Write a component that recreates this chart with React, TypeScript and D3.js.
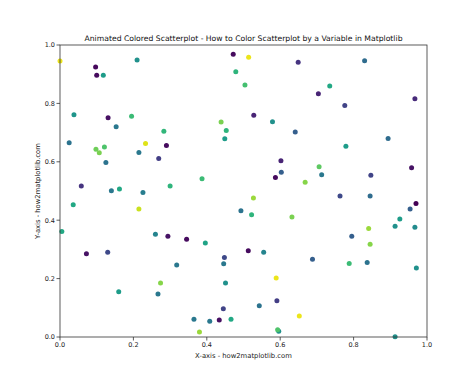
import React from "react";
import * as d3 from "d3";

const xs = [0.0,0.097,0.1,0.118,0.21,0.038,0.131,0.195,0.153,0.283,0.025,0.233,0.29,0.098,0.107,0.121,0.215,0.269,0.125,0.058,0.14,0.162,0.226,0.3,0.036,0.215,0.005,0.26,0.294,0.072,0.13,0.318,0.274,0.16,0.267,0.472,0.514,0.649,0.479,0.504,0.528,0.439,0.579,0.453,0.641,0.449,0.83,0.735,0.704,0.776,0.967,0.894,0.779,0.602,0.603,0.587,0.387,0.527,0.493,0.522,0.632,0.345,0.396,0.513,0.555,0.448,0.446,0.589,0.451,0.591,0.543,0.445,0.365,0.408,0.434,0.466,0.38,0.596,0.593,0.652,0.706,0.713,0.668,0.958,0.847,0.763,0.845,0.97,0.954,0.926,0.913,0.967,0.841,0.795,0.845,0.688,0.788,0.837,0.971,0.913];
const ys = [0.945,0.925,0.896,0.896,0.949,0.761,0.751,0.756,0.72,0.705,0.665,0.663,0.656,0.643,0.631,0.651,0.632,0.611,0.598,0.517,0.501,0.507,0.495,0.517,0.453,0.438,0.361,0.352,0.345,0.285,0.29,0.247,0.185,0.155,0.147,0.968,0.958,0.941,0.908,0.863,0.759,0.736,0.737,0.707,0.702,0.679,0.946,0.86,0.833,0.793,0.816,0.68,0.653,0.604,0.564,0.546,0.542,0.476,0.432,0.419,0.411,0.335,0.322,0.295,0.29,0.272,0.251,0.202,0.185,0.124,0.107,0.097,0.061,0.054,0.058,0.061,0.017,0.02,0.025,0.072,0.583,0.556,0.53,0.58,0.554,0.483,0.483,0.457,0.438,0.404,0.379,0.376,0.372,0.345,0.318,0.266,0.252,0.255,0.236,0.001];
const cs = [0.97,0.02,0.03,0.55,0.5,0.52,0.04,0.68,0.4,0.66,0.38,0.95,0.03,0.78,0.8,0.72,0.4,0.18,0.38,0.15,0.4,0.6,0.42,0.65,0.6,0.92,0.6,0.45,0.05,0.05,0.22,0.4,0.82,0.55,0.4,0.03,0.97,0.15,0.65,0.7,0.1,0.8,0.5,0.65,0.3,0.55,0.35,0.6,0.1,0.2,0.12,0.35,0.55,0.1,0.3,0.03,0.68,0.85,0.38,0.65,0.8,0.03,0.58,0.03,0.45,0.22,0.4,0.97,0.5,0.18,0.38,0.2,0.4,0.4,0.04,0.6,0.85,0.5,0.72,0.97,0.75,0.4,0.82,0.05,0.2,0.22,0.35,0.0,0.3,0.55,0.5,0.48,0.85,0.3,0.82,0.3,0.68,0.38,0.5,0.5];
const xTicks = [0, 0.2, 0.4, 0.6, 0.8, 1.0];
const yTicks = [0, 0.2, 0.4, 0.6, 0.8, 1.0];
const title = "Animated Colored Scatterplot - How to Color Scatterplot by a Variable in Matplotlib";
const xLabel = "X-axis - how2matplotlib.com";
const yLabel = "Y-axis - how2matplotlib.com";

export default function App() {
  const W = 474, H = 379;
  const L = 60, R = 427, T = 45, B = 337;
  const x = d3.scaleLinear().domain([0, 1]).range([L, R]);
  const y = d3.scaleLinear().domain([0, 1]).range([B, T]);
  const font = "DejaVu Sans, sans-serif";
  const axisColor = "#333";
  return (
    <svg width={W} height={H} style={{ position: "absolute", left: 0, top: 0, background: "#fff" }}>
      <rect x={0} y={0} width={W} height={H} fill="#fff" />
      {xs.map((v, i) => (
        <circle key={i} cx={x(v)} cy={y(ys[i])} r={2.5} fill={d3.interpolateViridis(cs[i])} />
      ))}
      <rect x={L} y={T} width={R - L} height={B - T} fill="none" stroke={axisColor} strokeWidth={0.8} />
      {xTicks.map((t) => (
        <g key={"x" + t}>
          <line x1={x(t)} x2={x(t)} y1={B} y2={B + 3.5} stroke={axisColor} strokeWidth={0.8} />
          <text x={x(t)} y={B + 10} fontSize={6.5} fontFamily={font} textAnchor="middle" fill="#222">{t.toFixed(1)}</text>
        </g>
      ))}
      {yTicks.map((t) => (
        <g key={"y" + t}>
          <line x1={L - 3.5} x2={L} y1={y(t)} y2={y(t)} stroke={axisColor} strokeWidth={0.8} />
          <text x={L - 5} y={y(t) + 2.3} fontSize={6.5} fontFamily={font} textAnchor="end" fill="#222">{t.toFixed(1)}</text>
        </g>
      ))}
      <text x={(L + R) / 2} y={40.5} fontSize={7.6} fontFamily={font} textAnchor="middle" fill="#111" textLength={318} lengthAdjust="spacingAndGlyphs">{title}</text>
      <text x={(L + R) / 2} y={358} fontSize={6.8} fontFamily={font} textAnchor="middle" fill="#222">{xLabel}</text>
      <text transform={`translate(39.5,${(T + B) / 2}) rotate(-90)`} fontSize={6.8} fontFamily={font} textAnchor="middle" fill="#222">{yLabel}</text>
    </svg>
  );
}
